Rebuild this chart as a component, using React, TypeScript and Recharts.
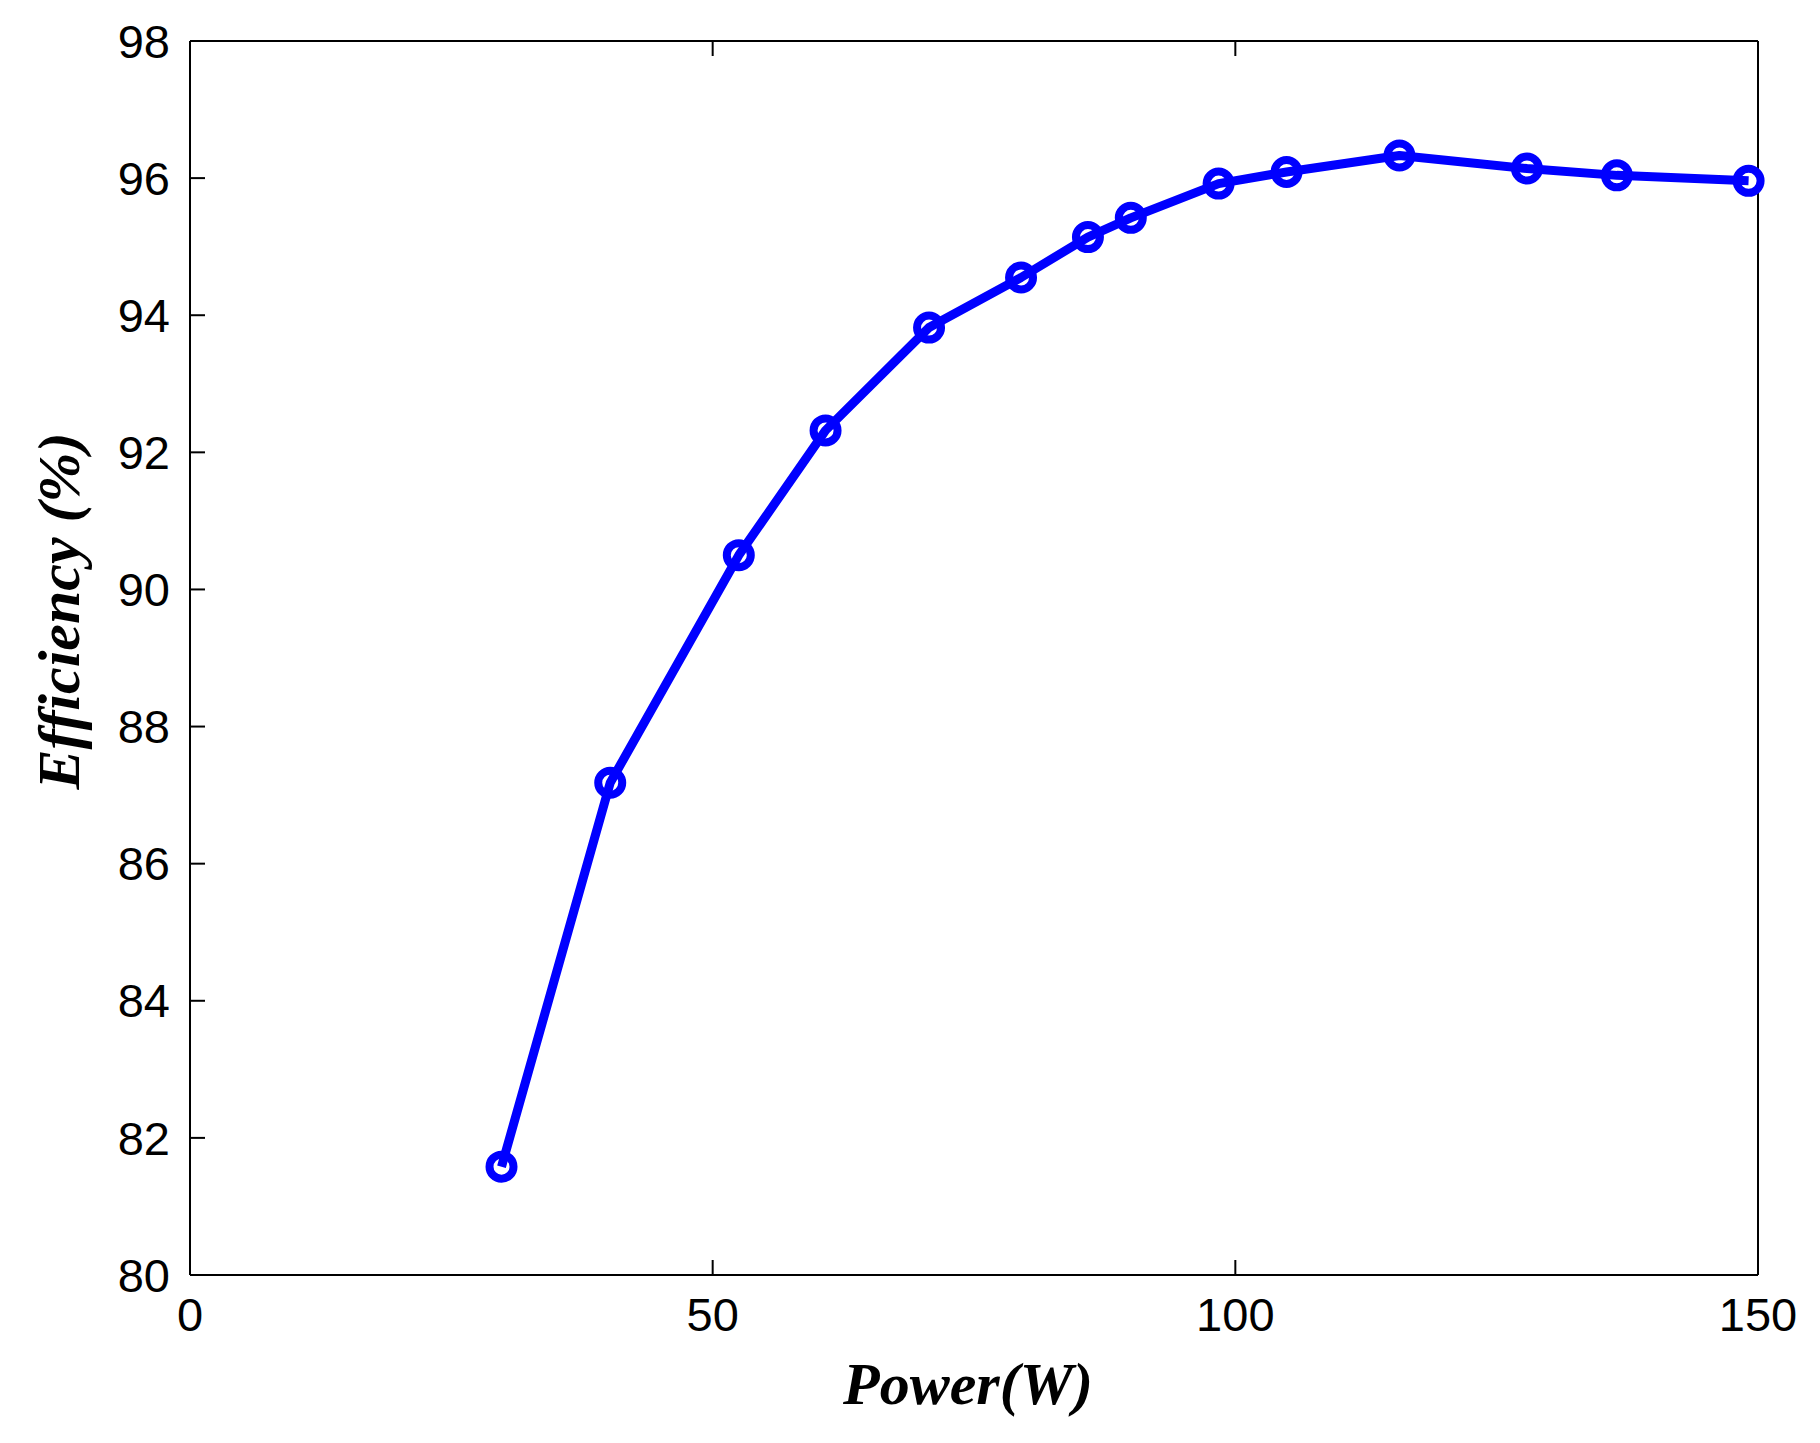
import React from 'react';
import { LineChart, Line, XAxis, YAxis } from 'recharts';

const powerW = [29.8, 40.2, 52.5, 60.8, 70.7, 79.5, 85.9, 90.0, 98.4, 104.9, 115.7, 127.9, 136.5, 149.1];
const efficiency = [81.58, 87.18, 90.5, 92.32, 93.82, 94.55, 95.14, 95.42, 95.92, 96.09, 96.33, 96.14, 96.04, 95.96];
const xTicks = [0, 50, 100, 150];
const yTicks = [80, 82, 84, 86, 88, 90, 92, 94, 96, 98];

const data = powerW.map((p, i) => ({ p, e: efficiency[i] }));

const BLUE = '#0000FF';
const TICK_LEN = 15;
const X_GAP = 23;
const Y_GAP = 20;
const fontFamily = '"Liberation Sans", Arial, sans-serif';
const titleFont = {
  fontFamily: '"Liberation Serif", "Times New Roman", serif',
  fontWeight: 'bold' as const,
  fontStyle: 'italic' as const,
  fontSize: 60,
  fill: '#000',
};

const BottomTick = (props: any) => {
  const { x, y, payload } = props;
  const axisY = y - X_GAP;
  return (
    <g>
      <line x1={x} x2={x} y1={axisY} y2={axisY - TICK_LEN} stroke="#000" strokeWidth={2} />
      <text x={x} y={y} dy="0.71em" textAnchor="middle" fontSize={47} fontFamily={fontFamily} fill="#000">
        {payload.value}
      </text>
    </g>
  );
};

const LeftTick = (props: any) => {
  const { x, y, payload } = props;
  const axisX = x + Y_GAP;
  return (
    <g>
      <line x1={axisX} x2={axisX + TICK_LEN} y1={y} y2={y} stroke="#000" strokeWidth={2} />
      <text x={x} y={y} dy="0.355em" textAnchor="end" fontSize={47} fontFamily={fontFamily} fill="#000">
        {payload.value}
      </text>
    </g>
  );
};

const TopTick = (props: any) => {
  const { x, y } = props;
  return <line x1={x} x2={x} y1={y} y2={y + TICK_LEN} stroke="#000" strokeWidth={2} />;
};

const RightTick = (props: any) => {
  const { x, y } = props;
  return <line x1={x} x2={x - TICK_LEN} y1={y} y2={y} stroke="#000" strokeWidth={2} />;
};

const XTitle = (props: any) => {
  const vb = props.viewBox || {};
  const cx = vb.x + vb.width / 2 - 6;
  const y = vb.y + 129;
  return (
    <text x={cx} y={y} textAnchor="middle" {...titleFont}>
      Power(W)
    </text>
  );
};

const YTitle = (props: any) => {
  const vb = props.viewBox || {};
  const x = vb.x + 19;
  const cy = vb.y + vb.height / 2 - 47;
  return (
    <text x={x} y={cy} textAnchor="middle" transform={`rotate(-90, ${x}, ${cy})`} {...titleFont}>
      Efficiency (%)
    </text>
  );
};

export default function App() {
  return (
    <div style={{ width: 1812, height: 1435, background: '#fff' }}>
      <LineChart width={1812} height={1435} data={data} margin={{ top: 32, right: 61, bottom: 48, left: 52 }}>
        <XAxis
          xAxisId="b"
          dataKey="p"
          type="number"
          domain={[0, 150]}
          ticks={xTicks}
          height={120}
          tickSize={0}
          tickMargin={X_GAP}
          tick={<BottomTick />}
          tickLine={false}
          axisLine={{ stroke: '#000', strokeWidth: 2 }}
          label={{ content: XTitle }}
        />
        <XAxis
          xAxisId="t"
          orientation="top"
          dataKey="p"
          type="number"
          domain={[0, 150]}
          ticks={xTicks}
          height={1}
          tickSize={0}
          tickMargin={0}
          tick={<TopTick />}
          tickLine={false}
          axisLine={{ stroke: '#000', strokeWidth: 2 }}
        />
        <YAxis
          yAxisId="l"
          type="number"
          domain={[80, 98]}
          ticks={yTicks}
          width={130}
          tickSize={0}
          tickMargin={Y_GAP}
          tick={<LeftTick />}
          tickLine={false}
          axisLine={{ stroke: '#000', strokeWidth: 2 }}
          label={{ content: YTitle }}
        />
        <YAxis
          yAxisId="r"
          orientation="right"
          type="number"
          domain={[80, 98]}
          ticks={yTicks}
          width={1}
          tickSize={0}
          tickMargin={0}
          tick={<RightTick />}
          tickLine={false}
          axisLine={{ stroke: '#000', strokeWidth: 2 }}
        />
        <Line
          xAxisId="b"
          yAxisId="l"
          type="linear"
          dataKey="e"
          stroke={BLUE}
          strokeWidth={9}
          strokeLinejoin="round"
          dot={{ r: 12, stroke: BLUE, strokeWidth: 8, fill: 'none', clipDot: false }}
          activeDot={false}
          isAnimationActive={false}
        />
      </LineChart>
    </div>
  );
}
